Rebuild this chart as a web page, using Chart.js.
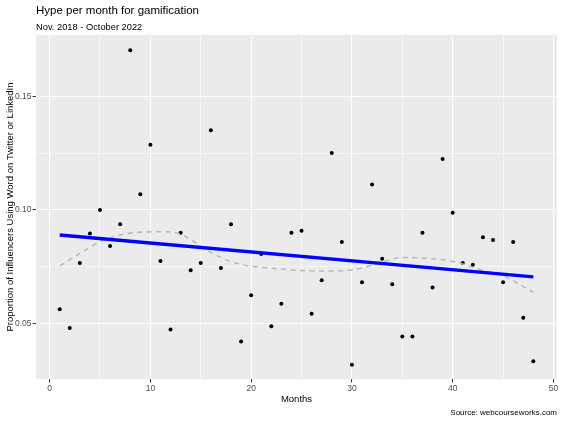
<!DOCTYPE html>
<html>
<head>
<meta charset="utf-8">
<script src="https://cdn.jsdelivr.net/npm/chart.js@4"></script>
<style>
html,body{margin:0;padding:0;background:#fff;}
#wrap{width:562px;height:421px;position:relative;}
</style>
</head>
<body>
<div id="wrap"><canvas id="c"></canvas></div>
<script>
const titleText = "Hype per month for gamification";
const subtitleText = "Nov. 2018 - October 2022";
const captionText = "Source: webcourseworks.com";
const xTitle = "Months";
const yTitle = "Proportion of Influencers Using Word on Twitter or LinkedIn";

const months = [1,2,3,4,5,6,7,8,9,10,11,12,13,14,15,16,17,18,19,20,21,22,23,24,
                25,26,27,28,29,30,31,32,33,34,35,36,37,38,39,40,41,42,43,44,45,46,47,48];
const hype = [0.0564,0.0481,0.0767,0.0897,0.1000,0.0842,0.0937,0.1702,0.1069,0.1287,
              0.0776,0.0475,0.0900,0.0735,0.0767,0.1350,0.0745,0.0937,0.0422,0.0625,
              0.0806,0.0489,0.0588,0.0900,0.0909,0.0544,0.0691,0.1250,0.0859,0.0320,
              0.0682,0.1112,0.0785,0.0673,0.0444,0.0444,0.0900,0.0659,0.1224,0.0988,
              0.0767,0.0759,0.0880,0.0868,0.0682,0.0859,0.0526,0.0335];

const trendX = [1, 48];
const trendY = [0.0890, 0.0706];

const curveX = [1,3,5,7,8.9,10.9,12.2,13.2,14.6,15.9,17.9,19.9,21.8,24.7,27.6,30.3,32.6,34.9,37.6,40.2,42.9,44.9,48];
const curveY = [0.0754,0.0809,0.0860,0.0890,0.0902,0.0904,0.0902,0.0890,0.0853,0.0816,0.0775,0.0753,0.0745,0.0734,0.0732,0.0738,0.0765,0.0791,0.0787,0.0772,0.0735,0.0713,0.0638];

const xTicks = [0,5,10,15,20,25,30,35,40,45,50];
const xMajor = [0,10,20,30,40,50];
const yTicks = [0.05,0.075,0.10,0.125,0.15];
const yMajor = [0.05,0.10,0.15];
const yLabels = {"0.05":"0.05","0.1":"0.10","0.15":"0.15"};

const FONT = "'Liberation Sans', Arial, sans-serif";

const toPts = (xs, ys) => xs.map((x, i) => ({x: x, y: ys[i]}));
const isMajor = (arr, v) => arr.some(m => Math.abs(m - v) < 1e-9);

const decor = {
  id: 'decor',
  beforeDraw(chart) {
    const {ctx, chartArea: a} = chart;
    ctx.save();
    ctx.fillStyle = '#EBEBEB';
    ctx.fillRect(a.left, a.top, a.right - a.left, a.bottom - a.top);
    ctx.restore();
  },
  afterDraw(chart) {
    const {ctx, chartArea: a} = chart;
    ctx.save();
    ctx.fillStyle = '#000';
    ctx.textAlign = 'left';
    ctx.textBaseline = 'alphabetic';
    ctx.font = "11.5px " + FONT;
    ctx.fillText(titleText, a.left, 14);
    ctx.font = "9.3px " + FONT;
    ctx.fillText(subtitleText, a.left, 29.5);
    ctx.textAlign = 'right';
    ctx.font = "8px " + FONT;
    ctx.fillText(captionText, a.right, 415);
    ctx.restore();
  }
};

new Chart(document.getElementById('c'), {
  type: 'scatter',
  data: {
    datasets: [
      {
        type: 'line',
        data: toPts(trendX, trendY),
        borderColor: '#0000FF',
        borderWidth: 3.4,
        pointRadius: 0,
        fill: false,
        order: 0
      },
      {
        type: 'line',
        data: toPts(curveX, curveY),
        borderColor: '#B8B8B8',
        borderWidth: 1.5,
        borderDash: [5, 4.5],
        pointRadius: 0,
        tension: 0.4,
        cubicInterpolationMode: 'monotone',
        fill: false,
        order: 1
      },
      {
        data: toPts(months, hype),
        backgroundColor: '#000',
        borderWidth: 0,
        pointRadius: 2,
        order: 2
      }
    ]
  },
  options: {
    responsive: true,
    maintainAspectRatio: false,
    animation: false,
    layout: {padding: {top: 35, right: 5, left: 0, bottom: 0}},
    plugins: {legend: {display: false}, tooltip: {enabled: false}},
    scales: {
      x: {
        type: 'linear',
        min: -1.35,
        max: 50.35,
        afterBuildTicks: s => { s.ticks = xTicks.map(v => ({value: v})); },
        afterFit: s => { s.height = 42; },
        border: {display: false},
        grid: {
          color: '#FFFFFF',
          lineWidth: c => (c.tick && isMajor(xMajor, c.tick.value)) ? 1.1 : 0.55,
          tickColor: c => (c.tick && isMajor(xMajor, c.tick.value)) ? '#333333' : 'rgba(0,0,0,0)',
          tickLength: 3.5,
          tickWidth: 1
        },
        ticks: {
          autoSkip: false,
          maxRotation: 0,
          padding: 1,
          color: '#4D4D4D',
          font: {family: FONT, size: 8.5},
          callback: v => isMajor(xMajor, v) ? String(v) : ''
        },
        title: {
          display: true,
          text: xTitle,
          color: '#000',
          font: {family: FONT, size: 9.5},
          padding: {top: 0, bottom: 16}
        }
      },
      y: {
        type: 'linear',
        min: 0.0257,
        max: 0.1769,
        afterBuildTicks: s => { s.ticks = yTicks.map(v => ({value: v})); },
        afterFit: s => { s.width = 36; },
        border: {display: false},
        grid: {
          color: '#FFFFFF',
          lineWidth: c => (c.tick && isMajor(yMajor, c.tick.value)) ? 1.1 : 0.55,
          tickColor: c => (c.tick && isMajor(yMajor, c.tick.value)) ? '#333333' : 'rgba(0,0,0,0)',
          tickLength: 3.5,
          tickWidth: 1
        },
        ticks: {
          autoSkip: false,
          padding: 1,
          color: '#4D4D4D',
          font: {family: FONT, size: 8.5},
          callback: v => {
            const k = String(Math.round(v * 1000) / 1000);
            return isMajor(yMajor, v) ? (yLabels[k] || k) : '';
          }
        },
        title: {
          display: true,
          text: yTitle,
          color: '#000',
          font: {family: FONT, size: 9.5},
          padding: {top: 4.5, bottom: 0}
        }
      }
    }
  },
  plugins: [decor]
});
</script>
</body>
</html>
